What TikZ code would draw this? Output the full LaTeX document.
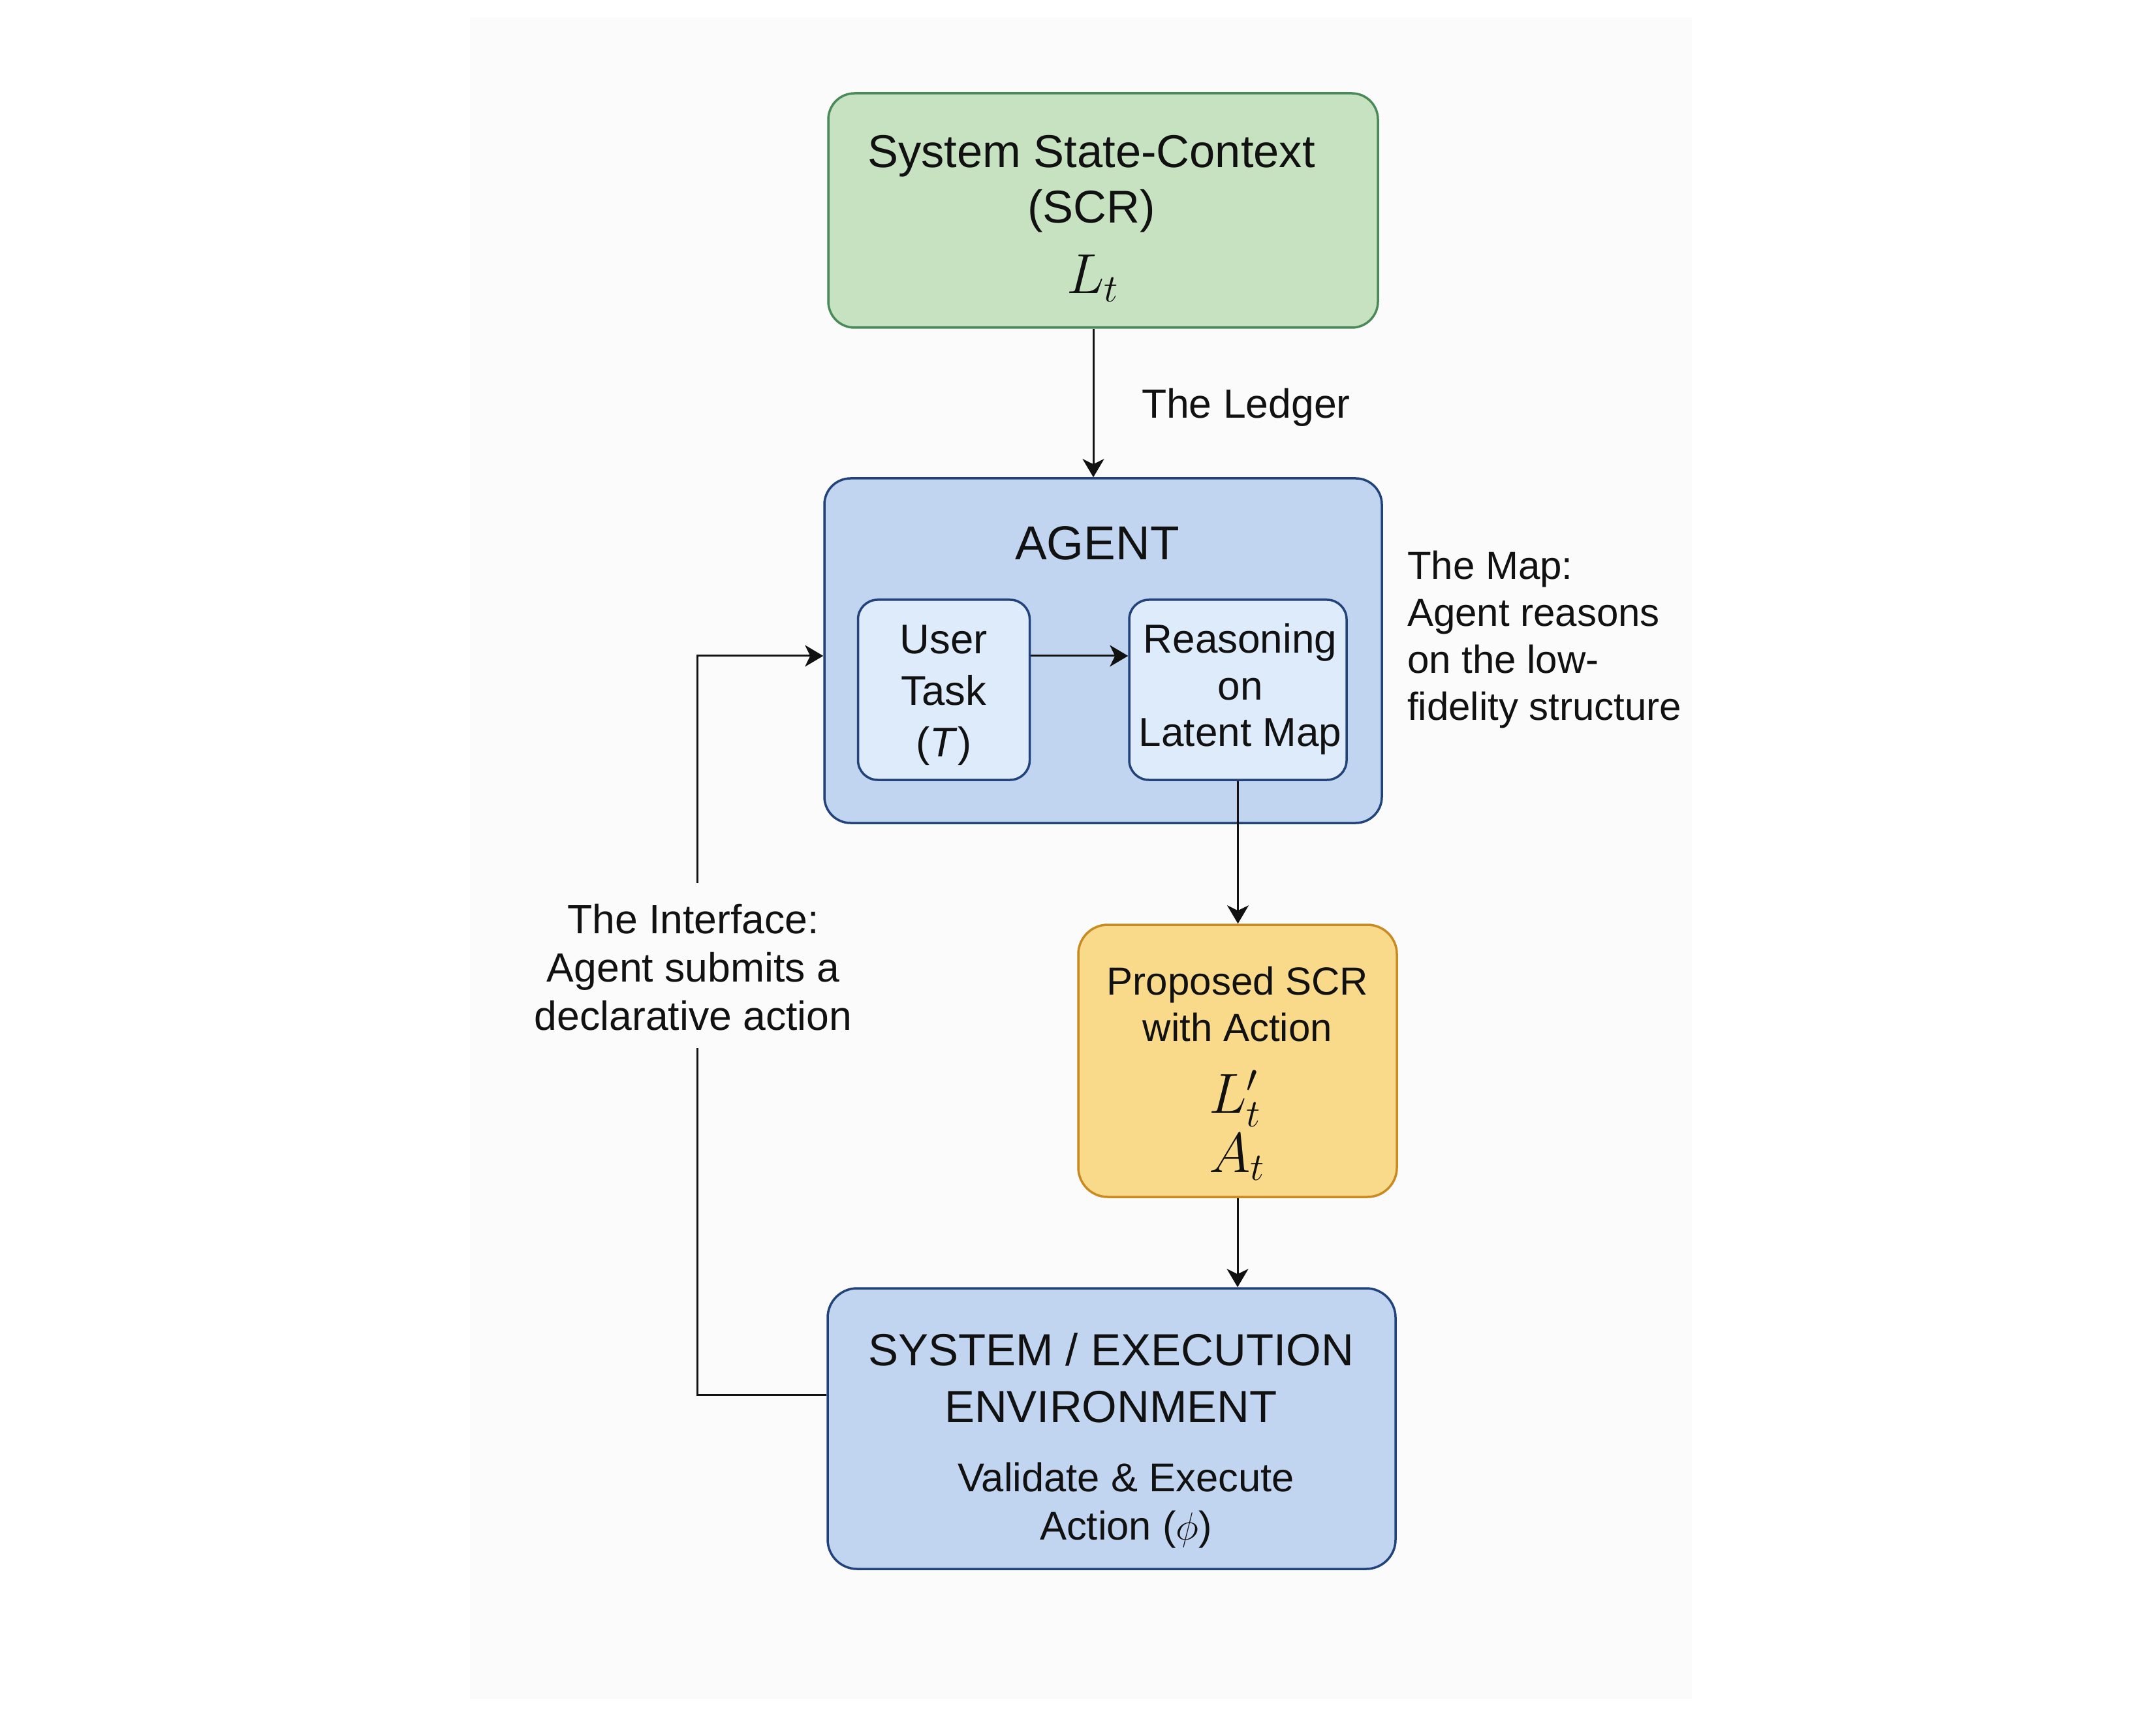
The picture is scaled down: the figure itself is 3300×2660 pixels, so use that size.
\documentclass[tikz,border=0pt]{standalone}
\usepackage{fontspec}
\setmainfont{Liberation Sans}
\usetikzlibrary{arrows.meta}
\definecolor{panel}{HTML}{FBFBFB}
\definecolor{gfill}{HTML}{C6E2C1}
\definecolor{gdraw}{HTML}{4A8A58}
\definecolor{bfill}{HTML}{C1D5F1}
\definecolor{bdraw}{HTML}{22427A}
\definecolor{ifill}{HTML}{DDEBFA}
\definecolor{yfill}{HTML}{F9DA8B}
\definecolor{ydraw}{HTML}{C98A22}
\definecolor{ink}{HTML}{111111}
\begin{document}
\begin{tikzpicture}[x=0.2pt,y=-0.2pt,
  box/.style={rectangle, rounded corners=8pt, line width=0.7pt, inner sep=0pt},
  txt/.style={inner sep=0pt, align=center, text=ink},
  conn/.style={draw=ink, line width=0.6pt, -{Stealth[length=5.6pt,width=6.6pt,inset=1.6pt]}},
  plain/.style={draw=ink, line width=0.6pt}]
\useasboundingbox[fill=white] (0,0) rectangle (3300,2660);
\fill[panel] (720,27) rectangle (2592,2603);
% boxes
\node[box, fill=gfill, draw=gdraw, minimum width=168.4pt, minimum height=71.8pt] (scr) at (1690,322.5) {};
\node[box, fill=bfill, draw=bdraw, minimum width=170.8pt, minimum height=105.6pt] (agent) at (1690,997) {};
\node[box, fill=ifill, draw=bdraw, rounded corners=6pt, minimum width=52.6pt, minimum height=55.2pt] (user) at (1446,1057) {};
\node[box, fill=ifill, draw=bdraw, rounded corners=6pt, minimum width=66.6pt, minimum height=55.2pt] (reason) at (1896.5,1057) {};
\node[box, fill=yfill, draw=ydraw, rounded corners=9pt, minimum width=97.6pt, minimum height=83.4pt] (prop) at (1896,1625.5) {};
\node[box, fill=bfill, draw=bdraw, rounded corners=9pt, minimum width=174pt, minimum height=86pt] (sys) at (1703,2189) {};
% texts
\node[txt, anchor=north, font=\fontsize{14.1}{17}\selectfont] (scrt) at (1672,206) {System State-Context\\(SCR)};
\node[txt, anchor=base, font=\fontsize{17.3}{20}\selectfont] (scrm) at (1675,450) {$L_t$};
\node[txt, anchor=base west, font=\fontsize{12.5}{15}\selectfont] (ledger) at (1748,641) {The Ledger};
\node[txt, anchor=base, font=\fontsize{14.6}{17}\selectfont] (agentt) at (1681,858) {AGENT};
\node[txt, anchor=north, font=\fontsize{12.7}{15.8}\selectfont] (usert) at (1446,957) {User\\Task\\(\textit{T})};
\node[txt, anchor=north, font=\fontsize{12.4}{14.3}\selectfont] (reasont) at (1900,955) {Reasoning\\on\\Latent Map};
\node[txt, anchor=north west, align=left, font=\fontsize{12}{14.4}\selectfont] (mapt) at (2155,843) {The Map:\\Agent reasons\\on the low-\\fidelity structure};
\node[txt, anchor=north, font=\fontsize{12.5}{14.8}\selectfont] (iface) at (1062,1384) {The Interface:\\Agent submits a\\declarative action};
\node[txt, anchor=north, font=\fontsize{12}{14.2}\selectfont] (propt) at (1896,1480) {Proposed SCR\\with Action};
\node[txt, anchor=base, font=\fontsize{16.5}{19}\selectfont] (propl) at (1893,1705) {$L'_t$};
\node[txt, anchor=base, font=\fontsize{16.5}{19}\selectfont] (propa) at (1896,1796) {$A_t$};
\node[txt, anchor=north, font=\fontsize{13.8}{17.5}\selectfont] (syst) at (1702,2041) {SYSTEM / EXECUTION\\ENVIRONMENT};
\node[txt, anchor=north, font=\fontsize{12.3}{14.8}\selectfont] (syss) at (1725,2240) {Validate \& Execute\\Action ($\phi$)};
% connectors
\draw[conn] ([xshift=-3pt]scr.south) -- ([xshift=-3pt]agent.north);
\coordinate (fb) at ([yshift=10.4pt]user.east);
\draw[conn] (fb) -- (fb -| reason.west);
\draw[conn] (reason.south) -- (reason.south |- prop.north);
\draw[conn] (prop.south) -- (prop.south |- sys.north);
\draw[plain] ([yshift=10.4pt]sys.west) -| ([xshift=1.2pt,yshift=-5.3pt]iface.south);
\draw[conn] ([xshift=1.2pt,yshift=6.2pt]iface.north) |- (fb -| agent.west);
\end{tikzpicture}
\end{document}
